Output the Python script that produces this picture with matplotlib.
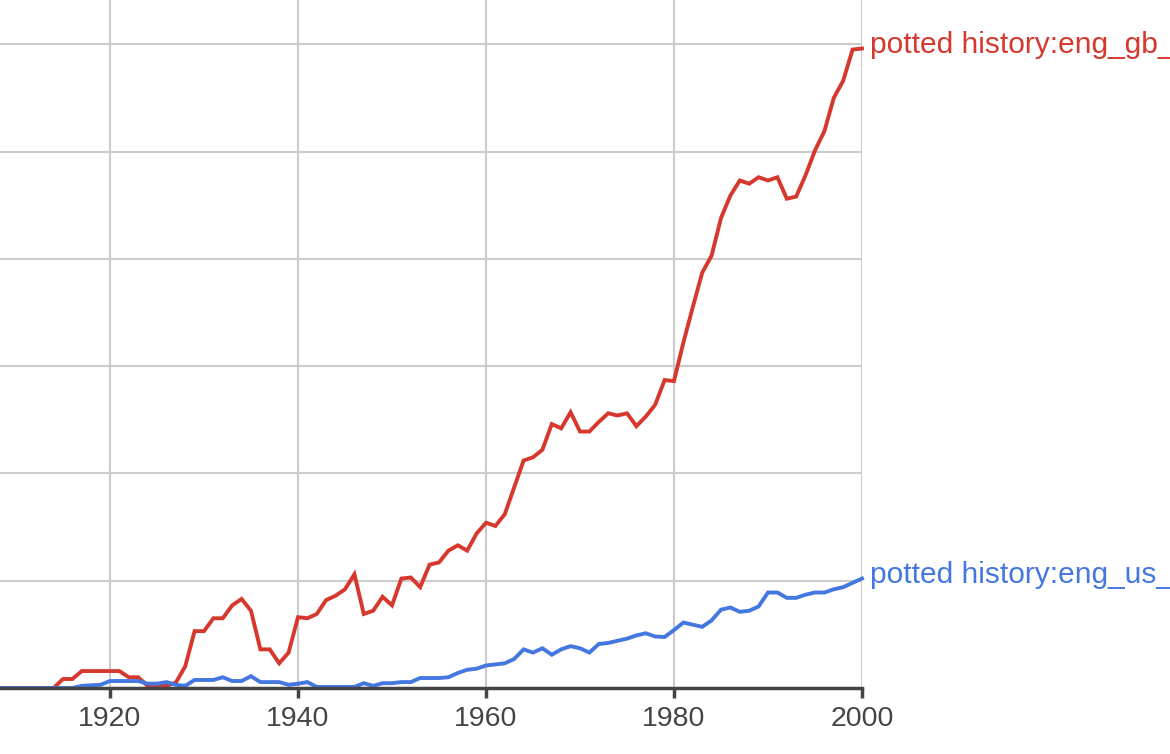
import matplotlib
matplotlib.use("Agg")
import matplotlib.pyplot as plt

years = list(range(1908, 2001))

gb = [0, 0, 0, 0, 0, 0, 0,            # 1908-1914
      0.084, 0.084, 0.158, 0.158, 0.158, 0.158, 0.158,   # 1915-1921
      0.10, 0.10, 0.02, 0.02, 0.02, 0.05, 0.20, 0.53, 0.53,  # 1922-1930
      0.65, 0.65, 0.77, 0.83, 0.72, 0.36, 0.36, 0.23, 0.33, 0.66,  # 1931-1940
      0.65, 0.69, 0.82, 0.86, 0.92, 1.06, 0.69, 0.72, 0.85, 0.77,  # 1941-1950
      1.02, 1.03, 0.94, 1.15, 1.17, 1.28, 1.33, 1.28, 1.44, 1.54,  # 1951-1960
      1.51, 1.62, 1.87, 2.12, 2.15, 2.22, 2.46, 2.42, 2.57, 2.39,  # 1961-1970
      2.39, 2.48, 2.56, 2.54, 2.56, 2.44, 2.53, 2.64, 2.87, 2.86,  # 1971-1980
      3.22, 3.55, 3.87, 4.03, 4.38, 4.59, 4.73, 4.70, 4.76, 4.73,  # 1981-1990
      4.76, 4.56, 4.58, 4.78, 5.01, 5.19, 5.50, 5.66, 5.95, 5.96]  # 1991-2000

us = [0, 0, 0, 0, 0, 0, 0, 0, 0,      # 1908-1916
      0.02, 0.025, 0.03, 0.065, 0.065, 0.065, 0.065,   # 1917-1923
      0.04, 0.04, 0.055, 0.03, 0.02, 0.075, 0.075,     # 1924-1930
      0.075, 0.10, 0.065, 0.065, 0.11, 0.055, 0.055, 0.055, 0.03, 0.04,  # 1931-1940
      0.055, 0.01, 0.01, 0.01, 0.01, 0.01, 0.045, 0.02, 0.045, 0.045,   # 1941-1950
      0.055, 0.055, 0.093, 0.093, 0.093, 0.10, 0.14, 0.17, 0.18, 0.21,  # 1951-1960
      0.22, 0.23, 0.27, 0.36, 0.33, 0.37, 0.31, 0.36, 0.39, 0.37,       # 1961-1970
      0.33, 0.41, 0.42, 0.44, 0.46, 0.49, 0.51, 0.48, 0.475, 0.54,      # 1971-1980
      0.61, 0.59, 0.57, 0.63, 0.73, 0.75, 0.71, 0.72, 0.76, 0.89,       # 1981-1990
      0.89, 0.84, 0.84, 0.87, 0.89, 0.89, 0.92, 0.94, 0.98, 1.02]       # 1991-2000

labels = ["potted history:eng_gb_", "potted history:eng_us_"]
colors = ["#d6382e", "#4577e0"]
xticks = [1920, 1940, 1960, 1980, 2000]
yticks = [0, 1, 2, 3, 4, 5, 6]

plt.rcParams['font.family'] = ['Liberation Sans', 'DejaVu Sans']

fig = plt.figure(figsize=(11.7, 7.54), dpi=100)
ax = fig.add_axes([0, 66/754, 862/1170, 688/754])

for series, lab, col in zip([gb, us], labels, colors):
    ax.plot(years, series, color=col, lw=2.8, solid_joinstyle='miter', zorder=3, clip_on=False)
    ax.annotate(lab, xy=(years[-1], series[-1]), xytext=(5.5, 2.5), textcoords='offset points',
                ha='left', va='center', color=col, fontsize=21.5, annotation_clip=False)

ax.set_xlim(1908.3, 2000)
ax.set_ylim(0, 688/107.3)
ax.set_xticks(xticks)
ax.set_yticks(yticks)
ax.set_yticklabels([])
ax.grid(True, color='#cccccc', lw=1.5, zorder=0)
ax.tick_params(axis='y', length=0)
ax.tick_params(axis='x', length=7, width=2.5, color='#444444', labelcolor='#444444',
               labelsize=20.5, pad=6, direction='out')
for s in ['top', 'left', 'right']:
    ax.spines[s].set_visible(False)
ax.spines['bottom'].set_color('#444444')
ax.spines['bottom'].set_linewidth(2.5)
ax.spines['bottom'].set_zorder(4)

fig.savefig("out.png", dpi=100)
